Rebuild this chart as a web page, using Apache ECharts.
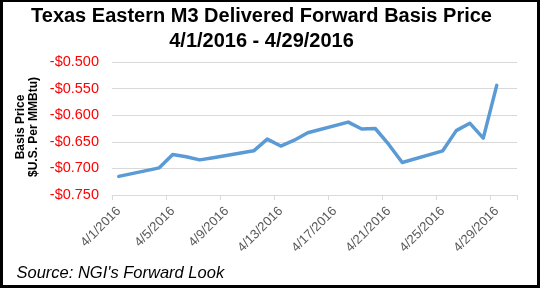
<!DOCTYPE html>
<html>
<head>
<meta charset="utf-8">
<script src="https://cdn.jsdelivr.net/npm/echarts@6/dist/echarts.min.js"></script>
<style>
html,body{margin:0;padding:0;background:#fff;}
#c{width:540px;height:288px;}
</style>
</head>
<body>
<div id="c"></div>
<script>
// Categories: every calendar day of April 1-30, 2016
const categories = [
  "4/1/2016","4/2/2016","4/3/2016","4/4/2016","4/5/2016","4/6/2016","4/7/2016","4/8/2016",
  "4/9/2016","4/10/2016","4/11/2016","4/12/2016","4/13/2016","4/14/2016","4/15/2016","4/16/2016",
  "4/17/2016","4/18/2016","4/19/2016","4/20/2016","4/21/2016","4/22/2016","4/23/2016","4/24/2016",
  "4/25/2016","4/26/2016","4/27/2016","4/28/2016","4/29/2016","4/30/2016"
];
// Basis price ($/MMBtu); null = no trading (weekend / after range)
const basisPrice = [
  -0.715, null, null, -0.699, -0.674, -0.678, -0.684, -0.680,
  null, null, -0.667, -0.645, -0.658, -0.647, -0.633, null,
  null, -0.613, -0.626, -0.625, -0.655, -0.689, null, null,
  -0.667, -0.629, -0.615, -0.643, -0.544, null
];
const titleLines = ["Texas Eastern M3 Delivered Forward Basis Price", "4/1/2016 - 4/29/2016"];
const yAxisName = ["Basis Price", "$U.S. Per MMBtu)"];
const sourceText = "Source: NGI's Forward Look";
const yMin = -0.75, yMax = -0.5, yStep = 0.05;

const FONT = '"Liberation Sans", Arial, sans-serif';
const chart = echarts.init(document.getElementById('c'), null, {renderer: 'canvas'});
chart.setOption({
  animation: false,
  backgroundColor: '#ffffff',
  grid: {left: 112, right: 23, top: 62, bottom: 93},
  xAxis: {
    type: 'category',
    data: categories,
    boundaryGap: true,
    axisLine: {lineStyle: {color: '#D9D9D9', width: 1}},
    axisTick: {show: true, interval: 3, length: 5, lineStyle: {color: '#D9D9D9'}},
    axisLabel: {interval: 3, rotate: 45, margin: 14, color: '#595959', fontSize: 13, fontFamily: FONT},
    splitLine: {show: false}
  },
  yAxis: {
    type: 'value',
    min: yMin, max: yMax, interval: yStep,
    axisLine: {show: false},
    axisTick: {show: false},
    axisLabel: {
      color: '#FF0000', fontSize: 14.5, fontFamily: FONT, margin: 13,
      formatter: v => (v < 0 ? '-' : '') + '$' + Math.abs(v).toFixed(3)
    },
    splitLine: {lineStyle: {color: '#D9D9D9', width: 1}}
  },
  series: [{
    type: 'line',
    data: basisPrice,
    connectNulls: true,
    showSymbol: false,
    symbol: 'none',
    lineStyle: {color: '#5B9BD5', width: 3.5, cap: 'round', join: 'round'},
    itemStyle: {color: '#5B9BD5'}
  }],
  graphic: [
    {type: 'text', x: 261.5, y: 16, style: {text: titleLines[0], font: 'bold 20px ' + FONT, fill: '#000', align: 'center', verticalAlign: 'middle'}},
    {type: 'text', x: 261.5, y: 41.5, style: {text: titleLines[1], font: 'bold 20px ' + FONT, fill: '#000', align: 'center', verticalAlign: 'middle'}},
    {type: 'text', x: 27, y: 127, rotation: Math.PI / 2, style: {text: yAxisName.join('\n'), font: 'bold 12px ' + FONT, lineHeight: 13, fill: '#000', align: 'center', verticalAlign: 'middle'}},
    {type: 'text', x: 16.5, y: 273, style: {text: sourceText, font: 'italic 16.5px ' + FONT, fill: '#000', align: 'left', verticalAlign: 'middle'}},
    {type: 'rect', shape: {x: 0, y: 0, width: 540, height: 2}, style: {fill: '#000'}},
    {type: 'rect', shape: {x: 0, y: 0, width: 3, height: 288}, style: {fill: '#000'}},
    {type: 'rect', shape: {x: 537, y: 0, width: 3, height: 288}, style: {fill: '#000'}},
    {type: 'rect', shape: {x: 0, y: 285, width: 540, height: 3}, style: {fill: '#000'}}
  ]
});
</script>
</body>
</html>
